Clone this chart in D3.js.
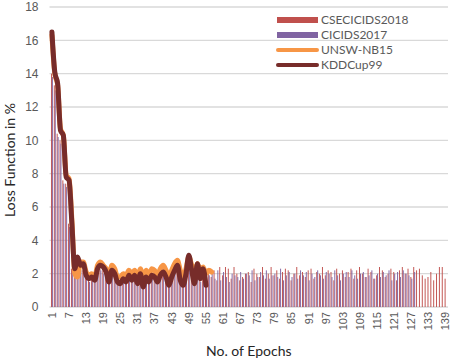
<!DOCTYPE html>
<html>
<head>
<meta charset="utf-8">
<script src="https://cdn.jsdelivr.net/npm/d3@7"></script>
<style>
  body { margin: 0; background: #fff; }
  svg { display: block; font-family: Lato, "Open Sans", sans-serif; }
</style>
</head>
<body>
<div id="chart"></div>
<script>
// epochs 1..139
const epochs = d3.range(1, 140);
const tickEpochs = epochs.filter(e => (e - 1) % 6 === 0);
const yTicks = [0, 2, 4, 6, 8, 10, 12, 14, 16, 18];

// bar series (one value per epoch)
const cse2018 = [
  14.0, 13.3, 10.4, 10.0, 7.6, 7.4, 5.0, 2.3, 1.9, 2.7,
  2.3, 2.2, 1.8, 1.6, 1.7, 1.5, 2.1, 2.3, 2.2, 1.9,
  1.4, 2.0, 1.9, 1.4, 1.3, 1.6, 1.4, 1.8, 1.5, 1.8,
  1.3, 1.9, 1.2, 1.7, 1.4, 1.8, 1.7, 1.4, 1.8, 2.0,
  1.7, 1.2, 1.7, 2.1, 2.3, 1.5, 1.2, 1.9, 2.9, 2.1,
  1.3, 2.4, 1.6, 2.2, 1.2, 2.1, 1.8, 2.2, 1.6, 2.4,
  1.9, 2.4, 2.3, 1.7, 2.4, 2.0, 1.6, 1.8, 2.0, 2.1,
  1.5, 2.3, 2.0, 1.8, 2.4, 1.7, 2.0, 2.4, 1.9, 2.2,
  1.7, 2.1, 2.3, 2.2, 1.6, 2.0, 2.4, 1.9, 2.1, 1.8,
  2.2, 2.3, 1.7, 2.1, 2.0, 2.4, 1.9, 2.2, 2.1, 1.6,
  2.3, 2.0, 2.2, 1.8, 2.1, 2.3, 1.7, 2.2, 2.4, 2.0,
  1.8, 2.3, 2.1, 1.7, 1.9, 2.4, 2.2, 1.8, 2.0, 2.3,
  2.1, 1.6, 2.2, 2.4, 2.0, 2.3, 1.8, 2.4, 2.2, 2.3,
  1.9, 1.7, 1.8, 2.1, 1.6, 2.0, 2.4, 2.4, 1.7
];
const cic2017 = [
  13.8, 13.0, 10.2, 9.8, 7.4, 7.2, 4.8, 2.1, 1.8, 2.5,
  2.2, 2.0, 1.7, 1.5, 1.6, 1.5, 2.0, 2.2, 2.0, 1.8,
  1.4, 1.9, 1.8, 1.4, 1.3, 1.5, 1.4, 1.7, 1.5, 1.7,
  1.3, 1.8, 1.2, 1.6, 1.4, 1.7, 1.6, 1.4, 1.7, 1.9,
  1.6, 1.2, 1.6, 2.0, 2.2, 1.5, 1.2, 1.8, 2.7, 2.0,
  1.3, 2.2, 1.5, 2.1, 1.2, 1.9, 2.0, 1.7, 2.2, 1.6,
  2.1, 1.8, 1.5, 2.0, 1.9, 1.8, 2.1, 1.7, 2.0, 1.9,
  2.2, 1.6, 1.8, 2.1, 1.9, 2.2, 1.7, 1.9, 2.0, 1.8,
  2.3, 1.6, 1.9, 2.1, 1.8, 2.0, 1.7, 2.2, 1.9, 2.1,
  1.6, 2.0, 1.8, 2.2, 1.9, 1.7, 2.1, 2.0, 1.8, 2.2,
  1.9, 1.6, 2.0, 2.1, 1.8, 2.2, 1.9, 1.7, 2.0, 2.1,
  1.8, 1.9, 2.2, 1.7, 2.0, 1.8, 2.1, 1.9, 2.2, 1.6,
  2.0, 2.1, 1.8, 2.2, 2.0, 1.9, 1.7, 2.1
];
// line series
const unswNb15 = [
  16.3, 14.0, 13.3, 10.7, 10.3, 7.9, 7.7, 5.2, 2.0, 1.8,
  2.7, 2.7, 2.1, 1.9, 2.0, 1.8, 2.5, 2.7, 2.5, 2.3,
  1.8, 2.5, 2.3, 1.8, 1.8, 2.0, 1.9, 2.2, 2.0, 2.2,
  1.8, 2.3, 1.7, 2.2, 1.9, 2.3, 2.2, 1.9, 2.3, 2.5,
  2.2, 1.8, 2.2, 2.6, 2.8, 2.2, 1.8, 2.3, 3.0, 2.5,
  1.9, 2.6, 2.2, 2.4, 2.0, 2.2, 2.1
];
const kddCup99 = [
  16.5, 14.1, 13.4, 10.6, 10.3, 7.8, 7.6, 5.0, 2.3, 3.0,
  2.5, 2.6, 1.9, 1.7, 1.8, 1.6, 2.3, 2.5, 2.4, 2.1,
  1.5, 2.2, 2.0, 1.5, 1.4, 1.7, 1.5, 1.9, 1.6, 1.9,
  1.4, 2.0, 1.2, 1.8, 1.5, 1.9, 1.8, 1.5, 1.9, 2.1,
  1.8, 1.3, 1.8, 2.2, 2.5, 1.6, 1.3, 2.0, 3.1, 2.2,
  1.4, 2.6, 1.7, 2.3, 1.3
];

const width = 474;
const height = 363;
const margin = { top: 7, right: 27, bottom: 56, left: 50.5 };
const plotW = width - margin.left - margin.right;
const plotH = height - margin.top - margin.bottom;

const svg = d3.select('#chart')
  .append('svg')
  .attr('width', width)
  .attr('height', height);

const chart = svg.append('g')
  .attr('transform', `translate(${margin.left},${margin.top})`);

const xScale = d3.scaleBand()
  .domain(epochs)
  .range([0, plotW]);
const yScale = d3.scaleLinear()
  .domain([0, 18])
  .range([plotH, 0]);

// gridlines
chart.append('g')
  .selectAll('line')
  .data(yTicks)
  .enter()
  .append('line')
  .attr('x1', -1)
  .attr('x2', plotW + 1)
  .attr('y1', d => yScale(d))
  .attr('y2', d => yScale(d))
  .attr('stroke', '#d9d9d9')
  .attr('stroke-width', 1.3);

// y tick labels
chart.append('g')
  .call(d3.axisLeft(yScale).tickValues(yTicks).tickSize(0).tickPadding(12))
  .call(g => g.select('.domain').remove())
  .selectAll('text')
  .attr('fill', '#595959')
  .style('font-size', '12px');

// x tick labels
const xAxis = chart.append('g')
  .attr('transform', `translate(0,${plotH})`)
  .call(d3.axisBottom(xScale).tickValues(tickEpochs).tickSize(0))
  .call(g => g.select('.domain').remove());
xAxis.selectAll('text')
  .attr('fill', '#595959')
  .style('font-size', '11px')
  .style('text-anchor', 'end')
  .attr('transform', 'rotate(-90)')
  .attr('x', -5)
  .attr('y', 0)
  .attr('dy', '0.35em');

// bars
const barW = 0.95;
const bars = [
  { name: 'CSECICIDS2018', values: cse2018, color: '#c0504d', off: 0 },
  { name: 'CICIDS2017', values: cic2017, color: '#8064a2', off: 1 }
];
bars.forEach(s => {
  chart.append('g')
    .selectAll('rect')
    .data(s.values)
    .enter()
    .append('rect')
    .attr('x', (d, i) => xScale(epochs[i]) + xScale.bandwidth() / 2 - barW + s.off * barW)
    .attr('y', d => yScale(d))
    .attr('width', barW)
    .attr('height', d => plotH - yScale(d))
    .attr('fill', s.color);
});

// lines
const lineGen = d3.line()
  .x((d, i) => xScale(epochs[i]) + xScale.bandwidth() / 2)
  .y(d => yScale(d))
  .curve(d3.curveMonotoneX);

const lines = [
  { name: 'UNSW-NB15', values: unswNb15, color: '#f79646' },
  { name: 'KDDCup99', values: kddCup99, color: '#772c2a' }
];
lines.forEach(s => {
  chart.append('path')
    .datum(s.values)
    .attr('d', lineGen)
    .attr('fill', 'none')
    .attr('stroke', s.color)
    .attr('stroke-width', 5)
    .attr('stroke-linejoin', 'round')
    .attr('stroke-linecap', 'round');
});

// legend
const legend = svg.append('g').attr('transform', 'translate(277,20)');
const legendItems = [
  { name: 'CSECICIDS2018', color: '#c0504d', type: 'bar' },
  { name: 'CICIDS2017', color: '#8064a2', type: 'bar' },
  { name: 'UNSW-NB15', color: '#f79646', type: 'line' },
  { name: 'KDDCup99', color: '#772c2a', type: 'line' }
];
legendItems.forEach((item, i) => {
  const g = legend.append('g').attr('transform', `translate(0,${i * 15})`);
  if (item.type === 'bar') {
    g.append('rect')
      .attr('x', 0).attr('y', -3)
      .attr('width', 41).attr('height', 6)
      .attr('fill', item.color);
  } else {
    g.append('line')
      .attr('x1', 1).attr('x2', 40)
      .attr('y1', 0).attr('y2', 0)
      .attr('stroke', item.color)
      .attr('stroke-width', 4)
      .attr('stroke-linecap', 'round');
  }
  g.append('text')
    .attr('x', 44)
    .attr('y', 0)
    .attr('dy', '0.35em')
    .attr('fill', '#595959')
    .style('font-size', '12px')
    .text(item.name);
});

// axis titles
svg.append('text')
  .attr('transform', `translate(15,${margin.top + plotH / 2 + 3}) rotate(-90)`)
  .attr('text-anchor', 'middle')
  .attr('fill', '#262626')
  .style('font-size', '14px')
  .text('Loss Function in %');

svg.append('text')
  .attr('x', margin.left + plotW / 2)
  .attr('y', 356)
  .attr('text-anchor', 'middle')
  .attr('fill', '#262626')
  .style('font-size', '14px')
  .text('No. of Epochs');
</script>
</body>
</html>
